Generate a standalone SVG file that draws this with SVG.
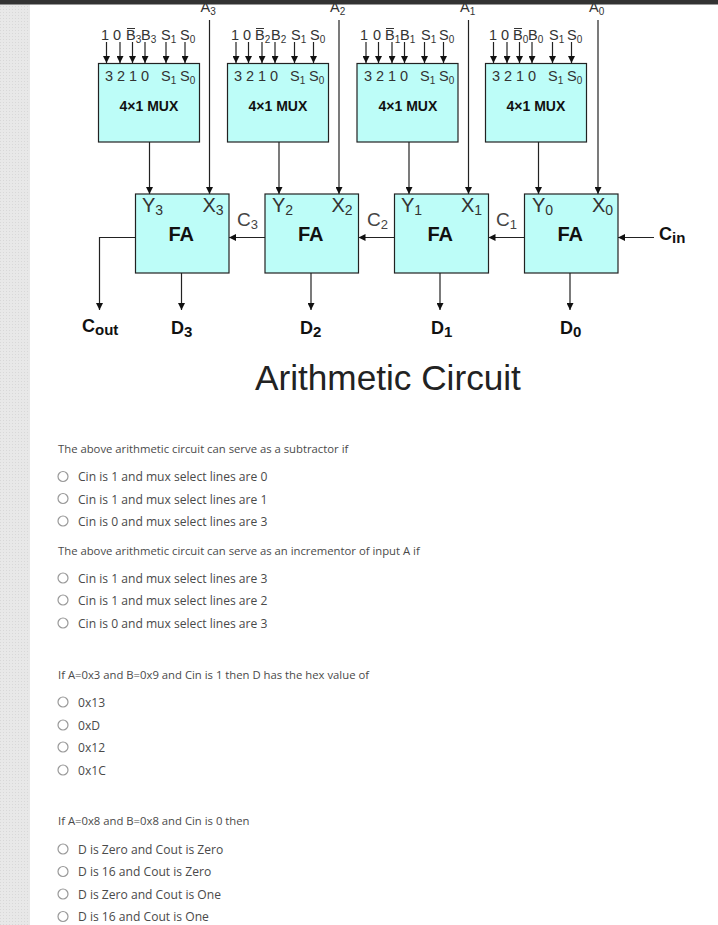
<svg xmlns="http://www.w3.org/2000/svg" width="718" height="925" viewBox="0 0 718 925">
<defs>
<marker id="ah" markerUnits="userSpaceOnUse" markerWidth="8" markerHeight="7" refX="7" refY="3.500" orient="auto"><path d="M0 0L7 3.500L0 7Z" fill="#111"/></marker>
<pattern id="dots" width="3" height="3" patternUnits="userSpaceOnUse"><rect width="3" height="3" fill="#e8e8e8"/><rect width="1" height="1" fill="#d8d8d8"/></pattern>
</defs>
<style>
text{font-family:"Liberation Sans",Arial,sans-serif;fill:#222}
.box{fill:#bdfdf8;stroke:#222;stroke-width:1.200}
.top{font-size:14.500px;fill:#333}
.sm{font-size:10px}
.bold{font-weight:bold;font-size:14px;fill:#111}
.fa{font-weight:bold;font-size:20px;fill:#111}
.yx{font-size:20px;fill:#333}
.yx tspan{font-size:14px}
.big{font-size:35.200px;fill:#222}
.res{font-weight:bold;font-size:18px;fill:#111}
.res tspan{font-size:15px}
.c{font-size:19px;fill:#444}
.c tspan{font-size:13px}
.q{font-family:"Open Sans","Noto Sans",sans-serif;font-size:11.300px;fill:#4a4a4a}
.o{font-family:"Open Sans","Noto Sans",sans-serif;font-size:12.100px;fill:#4a4a4a}
.rb{fill:#fff;stroke:#999;stroke-width:1.200}
.w{stroke:#222;stroke-width:1.200;fill:none;marker-end:url(#ah)}
</style>
<rect width="718" height="925" fill="#fff"/>
<rect x="0" y="0" width="30" height="925" fill="url(#dots)"/>
<rect x="0" y="0" width="718" height="4.500" fill="#333"/>
<g id="connectors">
<path class="w" d="M209.500 20V194"/><path class="w" d="M339 20V194"/><path class="w" d="M468.500 20V194"/><path class="w" d="M598 20V194"/>
<path class="w" d="M149.500 142V194"/><path class="w" d="M279 142V194"/><path class="w" d="M409 142V194"/><path class="w" d="M538.500 142V194"/>
<path class="w" d="M106.500 42V63"/><path class="w" d="M120 42V63"/><path class="w" d="M132.500 42V63"/><path class="w" d="M145 42V63"/><path class="w" d="M166 42V63"/><path class="w" d="M185 42V63"/>
<path class="w" d="M236 42V63"/><path class="w" d="M248.500 42V63"/><path class="w" d="M262 42V63"/><path class="w" d="M275 42V63"/><path class="w" d="M294.500 42V63"/><path class="w" d="M313.500 42V63"/>
<path class="w" d="M366 42V63"/><path class="w" d="M378.500 42V63"/><path class="w" d="M392 42V63"/><path class="w" d="M404.500 42V63"/><path class="w" d="M424.500 42V63"/><path class="w" d="M443.500 42V63"/>
<path class="w" d="M493.500 42V63"/><path class="w" d="M507 42V63"/><path class="w" d="M519.500 42V63"/><path class="w" d="M532 42V63"/><path class="w" d="M552.500 42V63"/><path class="w" d="M571.500 42V63"/>
<path class="w" d="M135.500 237.500H99.500V310"/>
<path class="w" d="M265 237.500H229"/><path class="w" d="M394.500 237.500H358.500"/><path class="w" d="M524.500 237.500H488.500"/><path class="w" d="M654 237.500H618"/>
<path class="w" d="M181.500 273V310"/><path class="w" d="M311 273V310"/><path class="w" d="M440 273V310"/><path class="w" d="M570 273V310"/>
</g>
<g id="labels-a">
<text class="top" x="200.500" y="12">A<tspan class="sm" dy="3">3</tspan></text>
<text class="top" x="330" y="12">A<tspan class="sm" dy="3">2</tspan></text>
<text class="top" x="460" y="12">A<tspan class="sm" dy="3">1</tspan></text>
<text class="top" x="589" y="12">A<tspan class="sm" dy="3">0</tspan></text>
</g>
<g id="mux3">
<text class="top" x="101" y="40">1</text><text class="top" x="113" y="40">0</text><text class="top" x="126" y="40">B<tspan class="sm" dy="3">3</tspan></text><text class="top" x="141" y="40">B<tspan class="sm" dy="3">3</tspan></text><text class="top" x="161" y="40">S<tspan class="sm" dy="3">1</tspan></text><text class="top" x="180" y="40">S<tspan class="sm" dy="3">0</tspan></text>
<path d="M127 28.500h8" stroke="#333"/>
<rect class="box" x="98.500" y="63.500" width="101" height="78.500"/>
<text class="top" x="105" y="81" textLength="44">3 2 1 0</text><text class="top" x="161" y="81">S<tspan class="sm" dy="3">1</tspan></text><text class="top" x="180" y="81">S<tspan class="sm" dy="3">0</tspan></text>
<text class="bold" x="119.500" y="111">4×1 MUX</text>
</g>
<g id="mux2">
<text class="top" x="231" y="40">1</text><text class="top" x="243" y="40">0</text><text class="top" x="255" y="40">B<tspan class="sm" dy="3">2</tspan></text><text class="top" x="271" y="40">B<tspan class="sm" dy="3">2</tspan></text><text class="top" x="291" y="40">S<tspan class="sm" dy="3">1</tspan></text><text class="top" x="310" y="40">S<tspan class="sm" dy="3">0</tspan></text>
<path d="M256 28.500h8" stroke="#333"/>
<rect class="box" x="227.500" y="63.500" width="101" height="78.500"/>
<text class="top" x="234" y="81" textLength="44">3 2 1 0</text><text class="top" x="290" y="81">S<tspan class="sm" dy="3">1</tspan></text><text class="top" x="309" y="81">S<tspan class="sm" dy="3">0</tspan></text>
<text class="bold" x="248.500" y="111">4×1 MUX</text>
</g>
<g id="mux1">
<text class="top" x="360" y="40">1</text><text class="top" x="373" y="40">0</text><text class="top" x="385" y="40">B<tspan class="sm" dy="3">1</tspan></text><text class="top" x="400" y="40">B<tspan class="sm" dy="3">1</tspan></text><text class="top" x="421" y="40">S<tspan class="sm" dy="3">1</tspan></text><text class="top" x="439" y="40">S<tspan class="sm" dy="3">0</tspan></text>
<path d="M386 28.500h8" stroke="#333"/>
<rect class="box" x="357" y="63.500" width="101" height="78.500"/>
<text class="top" x="364" y="81" textLength="44">3 2 1 0</text><text class="top" x="420" y="81">S<tspan class="sm" dy="3">1</tspan></text><text class="top" x="439" y="81">S<tspan class="sm" dy="3">0</tspan></text>
<text class="bold" x="378.500" y="111">4×1 MUX</text>
</g>
<g id="mux0">
<text class="top" x="489" y="40">1</text><text class="top" x="501" y="40">0</text><text class="top" x="513" y="40">B<tspan class="sm" dy="3">0</tspan></text><text class="top" x="528" y="40">B<tspan class="sm" dy="3">0</tspan></text><text class="top" x="549" y="40">S<tspan class="sm" dy="3">1</tspan></text><text class="top" x="567" y="40">S<tspan class="sm" dy="3">0</tspan></text>
<path d="M514 28.500h8" stroke="#333"/>
<rect class="box" x="485.500" y="63.500" width="101" height="78.500"/>
<text class="top" x="492" y="81" textLength="44">3 2 1 0</text><text class="top" x="548" y="81">S<tspan class="sm" dy="3">1</tspan></text><text class="top" x="567" y="81">S<tspan class="sm" dy="3">0</tspan></text>
<text class="bold" x="506.500" y="111">4×1 MUX</text>
</g>
<g id="fa3"><rect class="box" x="135.500" y="194" width="93.500" height="79"/><text class="yx" x="142" y="212">Y<tspan dy="3">3</tspan></text><text class="yx" x="202.500" y="212">X<tspan dy="3">3</tspan></text><text class="fa" x="168.500" y="241">FA</text></g>
<g id="fa2"><rect class="box" x="265" y="194" width="93.500" height="79"/><text class="yx" x="272" y="212">Y<tspan dy="3">2</tspan></text><text class="yx" x="331.500" y="212">X<tspan dy="3">2</tspan></text><text class="fa" x="298" y="241">FA</text></g>
<g id="fa1"><rect class="box" x="394.500" y="194" width="94" height="79"/><text class="yx" x="401" y="212">Y<tspan dy="3">1</tspan></text><text class="yx" x="461" y="212">X<tspan dy="3">1</tspan></text><text class="fa" x="427.500" y="241">FA</text></g>
<g id="fa0"><rect class="box" x="524.500" y="194" width="93.500" height="79"/><text class="yx" x="532" y="212">Y<tspan dy="3">0</tspan></text><text class="yx" x="592" y="212">X<tspan dy="3">0</tspan></text><text class="fa" x="557.500" y="241">FA</text></g>
<g id="carries">
<text class="c" x="237" y="226">C<tspan dy="3">3</tspan></text>
<text class="c" x="367" y="226">C<tspan dy="3">2</tspan></text>
<text class="c" x="496" y="226">C<tspan dy="3">1</tspan></text>
<text class="res" x="659" y="240">C<tspan dy="3">in</tspan></text>
<text class="res" x="82" y="332">C<tspan dy="3">out</tspan></text>
<text class="res" x="171" y="334">D<tspan dy="3">3</tspan></text>
<text class="res" x="300" y="334">D<tspan dy="3">2</tspan></text>
<text class="res" x="431" y="334">D<tspan dy="3">1</tspan></text>
<text class="res" x="560" y="334">D<tspan dy="3">0</tspan></text>
</g>
<text class="big" x="255" y="390">Arithmetic Circuit</text>
<g id="quiz">
<text class="q" x="58" y="453">The above arithmetic circuit can serve as a subtractor if</text>
<circle class="rb" cx="63" cy="476.500" r="5"/><text class="o" x="78" y="480.500">Cin is 1 and mux select lines are 0</text>
<circle class="rb" cx="63" cy="498.500" r="5"/><text class="o" x="78" y="503.500">Cin is 1 and mux select lines are 1</text>
<circle class="rb" cx="63" cy="521" r="5"/><text class="o" x="78" y="525.500">Cin is 0 and mux select lines are 3</text>
<text class="q" x="58" y="555">The above arithmetic circuit can serve as an incrementor of input A if</text>
<circle class="rb" cx="63" cy="578" r="5"/><text class="o" x="78" y="582.500">Cin is 1 and mux select lines are 3</text>
<circle class="rb" cx="63" cy="600" r="5"/><text class="o" x="78" y="604.500">Cin is 1 and mux select lines are 2</text>
<circle class="rb" cx="63" cy="623" r="5"/><text class="o" x="78" y="627.500">Cin is 0 and mux select lines are 3</text>
<text class="q" x="58" y="679">If A=0x3 and B=0x9 and Cin is 1 then D has the hex value of</text>
<circle class="rb" cx="63" cy="702" r="5"/><text class="o" x="78" y="706.500">0x13</text>
<circle class="rb" cx="63" cy="725" r="5"/><text class="o" x="78" y="729.500">0xD</text>
<circle class="rb" cx="63" cy="747" r="5"/><text class="o" x="78" y="751.500">0x12</text>
<circle class="rb" cx="63" cy="770" r="5"/><text class="o" x="78" y="774.500">0x1C</text>
<text class="q" x="58" y="825">If A=0x8 and B=0x8 and Cin is 0 then</text>
<circle class="rb" cx="63" cy="849" r="5"/><text class="o" x="78" y="853.500">D is Zero and Cout is Zero</text>
<circle class="rb" cx="63" cy="871.500" r="5"/><text class="o" x="78" y="876">D is 16 and Cout is Zero</text>
<circle class="rb" cx="63" cy="894" r="5"/><text class="o" x="78" y="898.500">D is Zero and Cout is One</text>
<circle class="rb" cx="63" cy="916.500" r="5"/><text class="o" x="78" y="921">D is 16 and Cout is One</text>
</g>
</svg>
